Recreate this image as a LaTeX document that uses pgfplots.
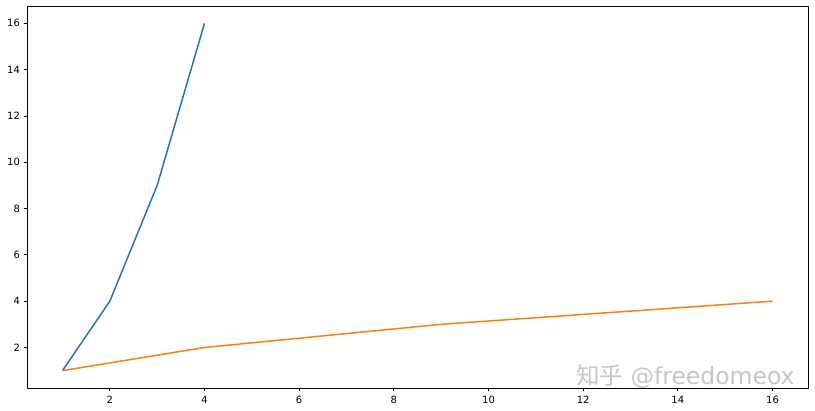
\documentclass[border=0pt]{standalone}
\usepackage{pgfplots}
\pgfplotsset{compat=1.18}
\usepackage{fontspec}
\setmainfont{DejaVu Sans}
\newfontfamily\cjk{Noto Sans CJK SC}
\definecolor{c0}{HTML}{1F77B4}
\definecolor{c1}{HTML}{FF7F0E}
\begin{document}
\begin{tikzpicture}
\path[use as bounding box] (-27pt,-23pt) rectangle (788pt,388pt);
\begin{axis}[
  at={(0,0)}, anchor=south west,
  scale only axis, width=781pt, height=382pt,
  xmin=0.25, xmax=16.75, ymin=0.25, ymax=16.75,
  xtick={2,4,...,16}, ytick={2,4,...,16},
  xtick pos=bottom, ytick pos=left,
  tick align=outside, major tick length=3.5pt,
  axis line style={line width=0.8pt},
  every tick/.style={black, line width=0.8pt},
  tick label style={font=\fontsize{10}{12}\selectfont},
  /pgf/number format/assume math mode=true,
  xticklabel style={yshift=-1pt},
]
\addplot[c0, line width=1.5pt] coordinates {(1,1) (2,4) (3,9) (4,16)};
\addplot[c1, line width=1.5pt] coordinates {(1,1) (4,2) (9,3) (16,4)};
\node[text=gray!45, font=\fontsize{23.5}{25}\selectfont] at (rel axis cs:0.843,0.03) {{\cjk 知乎} @freedomeox};
\end{axis}
\end{tikzpicture}
\end{document}
